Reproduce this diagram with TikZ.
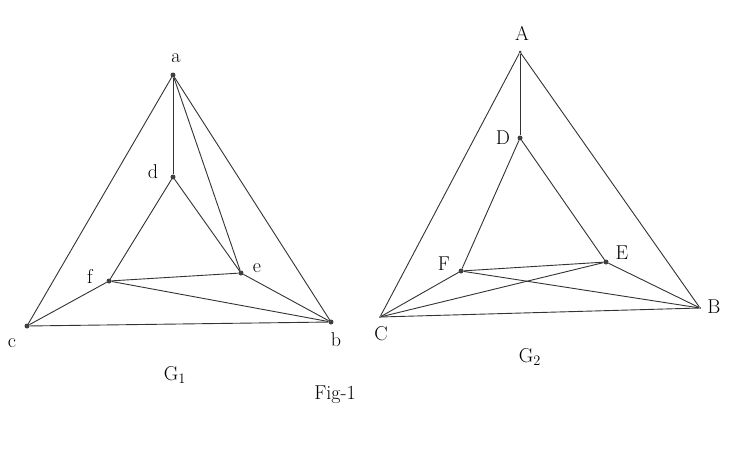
\documentclass[tikz,border=0pt]{standalone}
\begin{document}
\begin{tikzpicture}[x=1pt,y=-1pt,
  v/.style={circle,fill=black!75,inner sep=0pt,minimum size=5pt},
  lab/.style={font=\fontsize{20}{20}\selectfont},
  e/.style={draw=black!80,line width=0.9pt}]
\useasboundingbox (0,0) rectangle (745,464);
\fill[white] (0,0) rectangle (745,464);
% G1
\node[v] (a) at (173,75) {};
\node[v] (d) at (173,177) {};
\node[v] (e) at (241,273) {};
\node[v] (f) at (109,281) {};
\node[v] (c) at (27,326) {};
\node[v] (b) at (331,322) {};
\foreach \p/\q in {a/d,a/e,a/b,a/c,d/e,d/f,f/e,f/c,f/b,e/b,c/b}
  \draw[e] (\p) -- (\q);
\node[lab] (la) at (176,58) {a};
\node[lab] (ld) at (153,172) {d};
\node[lab] (le) at (257,268) {e};
\node[lab] (lf) at (90,276) {f};
\node[lab] (lc) at (12,343) {c};
\node[lab] (lb) at (336,340) {b};
\node[lab] (g1) at (175,375) {G$_1$};
% G2
\node[v,minimum size=3pt] (A) at (520,52) {};
\node[v] (D) at (520,138) {};
\node[v] (E) at (606,262) {};
\node[v] (F) at (461,271) {};
\node[v,minimum size=2pt] (C) at (380,317) {};
\node[v,minimum size=2pt] (B) at (700,308) {};
\foreach \p/\q in {A/D,A/C,A/B,D/F,D/E,F/E,F/B,C/F,C/E,C/B,E/B}
  \draw[e] (\p) -- (\q);
\node[lab] (lA) at (522,33) {A};
\node[lab] (lD) at (503,138) {D};
\node[lab] (lE) at (622,253) {E};
\node[lab] (lF) at (444,264) {F};
\node[lab] (lC) at (381,334) {C};
\node[lab] (lB) at (714,307) {B};
\node[lab] (g2) at (530,357) {G$_2$};
\node[lab] (fig) at (335,395) {Fig-1};
\end{tikzpicture}
\end{document}
